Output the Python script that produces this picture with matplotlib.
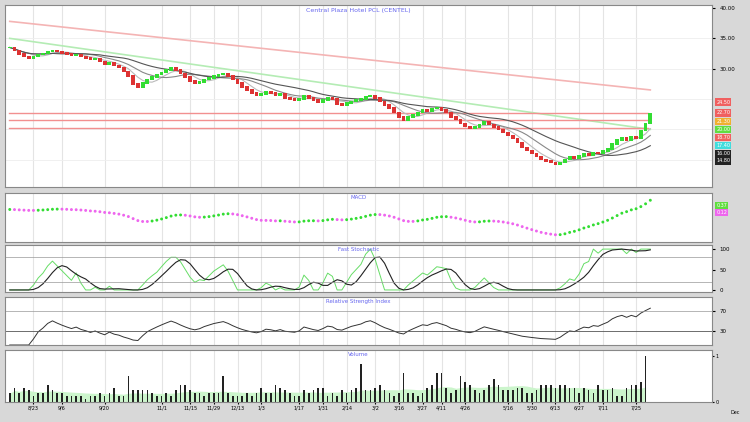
import numpy as np
import pandas as pd
import matplotlib
matplotlib.use("Agg")
import matplotlib.pyplot as plt

title = "Central Plaza Hotel PCL (CENTEL)"
closes = [33.5,33,32.4,32,31.8,32,32.3,32.5,32.8,33,32.8,32.6,32.4,32.2,32.3,32.0,
          31.8,31.5,31.6,31.2,30.8,31.0,30.5,30.2,29.5,28.8,27.5,27.0,27.6,28.2,28.6,
          29.0,29.4,29.8,30.2,29.8,29.2,28.6,28.0,27.6,27.8,28.2,28.5,28.8,29.0,29.2,
          28.8,28.2,27.6,27.0,26.5,26.0,25.6,25.8,26.2,26.0,25.6,25.8,25.2,25.0,24.8,
          25.0,25.6,25.2,24.8,24.5,24.8,25.2,25.0,24.2,24.0,24.3,24.6,24.8,25.0,25.4,
          25.6,25.2,24.6,24.0,23.5,22.8,22.0,21.5,22.0,22.4,22.8,23.2,23.0,23.4,23.6,
          23.2,22.8,22.0,21.6,21.0,20.5,20.2,20.4,20.8,21.2,20.8,20.4,20.0,19.5,19.0,
          18.5,17.8,17.0,16.5,16.0,15.5,15.0,14.8,14.5,14.2,14.5,15.0,15.5,15.2,15.6,
          16.0,15.8,16.2,16.0,16.4,16.8,17.6,18.2,18.6,18.2,18.8,18.5,19.8,21.0,22.5]
volumes = [3,5,3,5,4,2,3,3,6,4,3,3,2,2,2,2,1,2,2,3,2,3,5,2,2,9,4,4,4,4,3,2,2,3,2,4,
           6,6,4,3,3,2,3,3,3,9,3,2,2,2,3,2,3,5,3,3,6,5,4,3,2,2,4,3,4,5,5,2,3,2,4,3,
           4,5,13,4,4,5,6,4,3,2,3,10,3,3,2,3,5,6,10,10,5,3,4,9,7,6,4,3,4,6,8,6,4,4,
           4,5,5,3,3,4,6,6,6,5,6,6,5,5,3,5,4,3,6,4,4,5,2,2,5,6,6,7,16]
xtick_pos = [5,11,20,32,38,43,48,53,61,66,71,77,82,87,91,96,105,110,115,120,125,132]
xtick_lab = ["8/23","9/6","9/20","11/1","11/15","11/29","12/13","1/3","1/17","1/31","2/14",
             "3/2","3/16","3/27","4/11","4/26","5/16","5/30","6/13","6/27","7/11","7/25"]
ma_long_red = [37.8, 26.5]
ma_long_green = [35.0, 20.0]
hlines = [22.7, 21.5, 20.2]

n = len(closes)
x = np.arange(n)
c = np.array(closes)
o = np.r_[c[0], c[:-1]]
s = pd.Series(c)

W, H = 750, 422
fig = plt.figure(figsize=(W/100, H/100), dpi=100, facecolor="#d8d8d8")
def ax_px(x0, y0, x1, y1):
    a = fig.add_axes([x0/W, 1-y1/H, (x1-x0)/W, (y1-y0)/H])
    a.set_facecolor("white")
    a.set_xlim(-1, 148)
    for xp in xtick_pos:
        a.axvline(xp, color="#e4e4e4", lw=0.8, zorder=0)
    a.tick_params(left=False, labelleft=False, bottom=False, labelbottom=False,
                  right=True, labelright=True, labelsize=4, length=2)
    for sp in a.spines.values():
        sp.set_color("#888888")
    return a

# price
ap = ax_px(5, 5, 712, 187)
ap.set_ylim(10.5, 40.5)
ap.set_yticks([30, 35, 40])
ap.set_yticklabels(["30.00", "35.00", "40.00"])
for y in [15, 20, 25, 30, 35]:
    ap.axhline(y, color="#eeeeee", lw=0.6, zorder=0)
ap.plot([0, 135], ma_long_red, color="#f4b4b4", lw=1.2)
ap.plot([0, 135], ma_long_green, color="#b4ecb4", lw=1.2)
for h in hlines:
    ap.axhline(h, xmin=0.005, xmax=0.91, color="#f29090", lw=1.0)
for w, col in [(5, "#bbbbbb"), (10, "#888888"), (20, "#555555")]:
    ap.plot(x, s.rolling(w, min_periods=1).mean(), color=col, lw=0.8)
up = c >= o
ap.bar(x, np.abs(c-o)+0.25, bottom=np.minimum(c, o)-0.12, width=0.8,
       color=np.where(up, "#33dd33", "#dd3333"), zorder=3)
ap.text(0.5, 0.985, title, transform=ap.transAxes, ha="center", va="top",
        fontsize=4.5, color="#6666ee")
for yv, col in [(24.5, "#f06060"), (22.7, "#f06060"), (21.3, "#f0b030"),
                (20.0, "#60dd40"), (18.7, "#f06060"), (17.4, "#40dddd"),
                (16.0, "#222222"), (14.8, "#222222")]:
    ap.text(1.006, (yv-10.5)/30, "%.2f" % yv, transform=ap.transAxes, fontsize=3.5,
            va="center", color="white", bbox=dict(fc=col, ec="none", pad=0.8))

# MACD
am = ax_px(5, 193, 712, 242)
ema12 = s.ewm(span=12).mean(); ema26 = s.ewm(span=26).mean()
macd = ema12 - ema26
am.scatter(x, macd, s=1.2, c=np.where(macd.diff().fillna(0) >= 0, "#33dd33", "#ee66ee"))
am.set_ylim(macd.min()-0.6, macd.max()+0.6)
am.set_yticks([])
am.text(0.5, 0.96, "MACD", transform=am.transAxes, ha="center", va="top", fontsize=4, color="#6666ee")
am.text(1.006, 0.75, "0.37", transform=am.transAxes, fontsize=3.5, va="center", color="white",
        bbox=dict(fc="#60dd40", ec="none", pad=0.8))
am.text(1.006, 0.6, "0.12", transform=am.transAxes, fontsize=3.5, va="center", color="white",
        bbox=dict(fc="#ee66ee", ec="none", pad=0.8))

# Stochastic
ast = ax_px(5, 245, 712, 292)
lo = s.rolling(14, min_periods=1).min(); hi = s.rolling(14, min_periods=1).max()
k = 100*(s-lo)/(hi-lo).replace(0, 1)
d = k.rolling(3, min_periods=1).mean()
ast.plot(x, k, color="#66dd66", lw=0.7)
ast.plot(x, d.rolling(3, min_periods=1).mean(), color="#222222", lw=0.8)
ast.axhline(20, color="#999999", lw=0.5); ast.axhline(80, color="#999999", lw=0.5)
ast.set_ylim(-5, 110); ast.set_yticks([0, 50, 100]); ast.set_yticklabels(["0", "50", "100"])
ast.text(0.5, 0.96, "Fast Stochastic", transform=ast.transAxes, ha="center", va="top", fontsize=4, color="#6666ee")

# RSI
ar = ax_px(5, 297, 712, 345)
delta = s.diff().fillna(0)
g = delta.clip(lower=0).ewm(alpha=1/14).mean(); l = (-delta.clip(upper=0)).ewm(alpha=1/14).mean()
rsi = 100 - 100/(1 + g/l.replace(0, 1e-6))
ar.plot(x, rsi, color="#333333", lw=0.7)
ar.axhline(30, color="#555555", lw=0.6); ar.axhline(70, color="#999999", lw=0.5)
ar.set_ylim(0, 100); ar.set_yticks([30, 70])
ar.text(0.5, 0.96, "Relative Strength Index", transform=ar.transAxes, ha="center", va="top", fontsize=4, color="#6666ee")

# Volume
av = ax_px(5, 350, 712, 402)
v = np.array(volumes)
xv = np.arange(len(v))
av.fill_between(xv, 0, pd.Series(v).rolling(20, min_periods=1).mean(), color="#ccf5cc", lw=0)
av.bar(xv, v, width=0.35, color="#222222")
av.set_ylim(0, 18); av.set_yticks([0, 16]); av.set_yticklabels(["0", "1"])
av.text(0.5, 0.96, "Volume", transform=av.transAxes, ha="center", va="top", fontsize=4, color="#6666ee")
av.tick_params(bottom=True, labelbottom=True, labelsize=3.5, length=1.5, pad=1)
av.set_xticks(xtick_pos); av.set_xticklabels(xtick_lab)
fig.text(735/W, 1-412/H, "Dec", fontsize=3.5, ha="center", va="center")

fig.savefig("out.png", dpi=100, facecolor=fig.get_facecolor())
